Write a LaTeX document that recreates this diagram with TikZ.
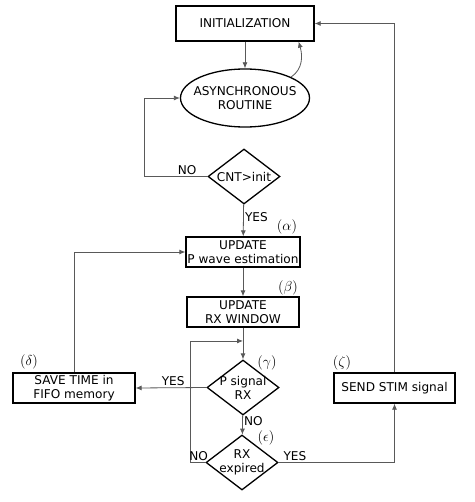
\documentclass[tikz,border=0pt]{standalone}
\usepackage{fontspec}
\setmainfont{DejaVu Sans}
\usetikzlibrary{shapes.geometric,arrows.meta,calc}
\begin{document}
\begin{tikzpicture}[x=1pt,y=-1pt,font=\fontsize{12.1}{14}\selectfont,
  box/.style={draw=black,line width=1.3pt,inner sep=0pt,align=center},
  dia/.style={draw=black,line width=1.3pt,diamond,inner sep=0pt,minimum width=72pt,minimum height=55pt},
  conn/.style={draw=black!65,line width=0.8pt},
  arr/.style={conn,-{Latex[length=6pt,width=5pt]}},
  lbl/.style={inner sep=1.2pt,text=black},
  greek/.style={inner sep=0pt,font=\fontsize{14}{16}\selectfont}]
\fill[white] (0,0) rectangle (474,502);
\useasboundingbox (0,0) rectangle (474,502);

% nodes
\node[box,minimum width=138pt,minimum height=35pt] (init) at (245,23.5) {INITIALIZATION};
\node[draw,ellipse,line width=1.3pt,minimum width=129pt,minimum height=58pt,inner sep=0pt,
      label={[align=center]center:ASYNCHRONOUS\\ROUTINE}] (async) at (245,98) {};
\node[dia,label={center:CNT>init}] (cnt) at (244,176.5) {};
\node[box,minimum width=114pt,minimum height=30pt] (upd) at (243,252) {UPDATE\\P wave estimation};
\node[box,minimum width=112pt,minimum height=30pt] (rxw) at (243,312) {UPDATE\\RX WINDOW};
\node[dia,label={[align=center]center:P signal\\RX}] (psig) at (243,387.5) {};
\node[dia,label={[align=center]center:RX\\expired}] (rxe) at (242,462.5) {};
\node[box,minimum width=122pt,minimum height=30pt] (save) at (74,388) {SAVE TIME in\\FIFO memory};
\node[box,minimum width=121pt,minimum height=30pt] (stim) at (394.5,388) {SEND STIM signal};

% greek tags
\node[greek] (ta) at (287,227) {$(\alpha)$};
\node[greek] (tb) at (288,288) {$(\beta)$};
\node[greek] (tg) at (267,363) {$(\gamma)$};
\node[greek] (td) at (29,362) {$(\delta)$};
\node[greek] (te) at (266,438) {$(\epsilon)$};
\node[greek] (tz) at (342,363) {$(\zeta)$};

% connectors
\draw[arr] (init) -- (async);
\draw[arr] (async.north east) .. controls +(12,-8) and +(4,14) .. ([xshift=-16pt]init.south east);
\draw[arr] (cnt.west) -- node[lbl,above,pos=0.32] {NO} ++(-63,0) |- (async.west);
\draw[arr] (cnt) -- node[lbl,right,pos=0.4] {YES} (upd);
\draw[arr] (upd) -- (rxw);
\draw[arr] (rxw) -- (psig);
\draw[arr] (psig.west) -- node[lbl,above,pos=0.47] {YES} (save.east);
\draw[arr] (save.north) |- (upd.west);
\draw[arr] (psig) -- node[lbl,right,pos=0.3] {NO} (rxe);
\coordinate (join) at ($(rxw.south)!0.42!(psig.north)$);
\draw[arr] (rxe.west) -- node[lbl,above,pos=0.45] {NO} ++(-15,0) |- (join);
\draw[arr] (rxe.east) -| node[lbl,above,pos=0.07] {YES} (stim.south);
\draw[arr] (stim.north) |- (init.east);
\end{tikzpicture}
\end{document}
